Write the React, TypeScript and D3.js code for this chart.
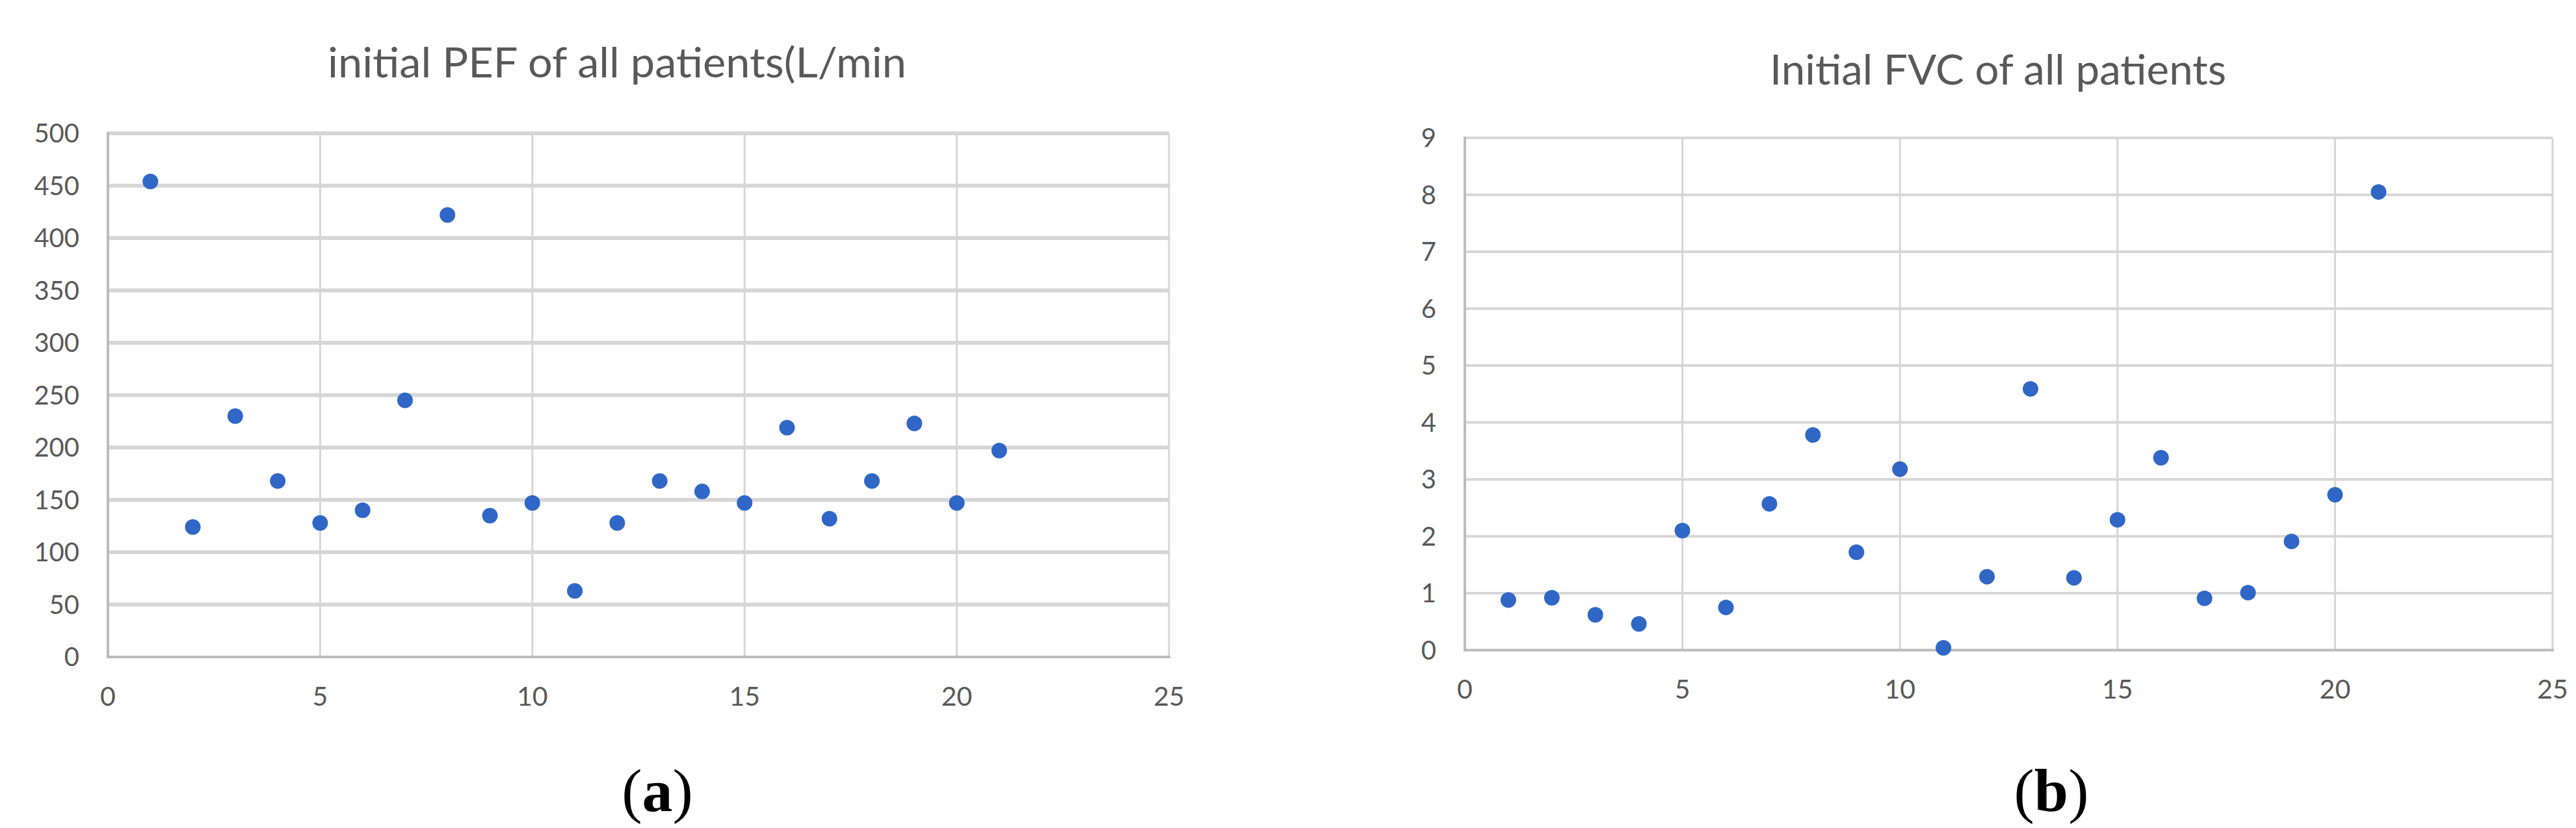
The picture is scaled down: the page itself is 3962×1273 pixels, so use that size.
import React from "react";
import * as d3 from "d3";

const patients = [1, 2, 3, 4, 5, 6, 7, 8, 9, 10, 11, 12, 13, 14, 15, 16, 17, 18, 19, 20, 21];
const pefValues = [454, 124, 230, 168, 128, 140, 245, 422, 135, 147, 63, 128, 168, 158, 147, 219, 132, 168, 223, 147, 197];
const fvcValues = [0.88, 0.92, 0.62, 0.46, 2.1, 0.75, 2.57, 3.78, 1.72, 3.18, 0.04, 1.29, 4.59, 1.27, 2.29, 3.38, 0.91, 1.01, 1.91, 2.73, 8.05];
const xTicks = [0, 5, 10, 15, 20, 25];
const pefTicks = [0, 50, 100, 150, 200, 250, 300, 350, 400, 450, 500];
const fvcTicks = [0, 1, 2, 3, 4, 5, 6, 7, 8, 9];
const pefTitle = "initial PEF of all patients(L/min";
const fvcTitle = "Initial FVC of all patients";

const W = 3962;
const H = 1273;
const GRID = "#d6d6d6";
const AXIS = "#bcbcbc";
const TEXT = "#595959";
const DOT = "#3067c6";
const FONT = "Lato, 'Open Sans', sans-serif";

type PanelProps = {
  left: number;
  right: number;
  top: number;
  bottom: number;
  yMax: number;
  yTicks: number[];
  values: number[];
  title: string;
  titleX: number;
  titleY: number;
  titleLen: number;
  xLabelY: number;
  hGridW: number;
  letter: string;
  letterX: number;
};

function Panel(p: PanelProps) {
  const x = d3.scaleLinear().domain([0, 25]).range([p.left, p.right]);
  const y = d3.scaleLinear().domain([0, p.yMax]).range([p.bottom, p.top]);
  return (
    <g>
      {p.yTicks.filter((t) => t !== 0).map((t) => (
        <line key={"h" + t} x1={p.left} x2={p.right} y1={y(t)} y2={y(t)} stroke={GRID} strokeWidth={p.hGridW} />
      ))}
      {xTicks.filter((t) => t !== 0).map((t) => (
        <line key={"v" + t} x1={x(t)} x2={x(t)} y1={p.top} y2={p.bottom} stroke={GRID} strokeWidth={3} />
      ))}
      <line x1={p.left} x2={p.left} y1={p.top - 2} y2={p.bottom + 2} stroke={AXIS} strokeWidth={4} />
      <line x1={p.left - 2} x2={p.right + 2} y1={p.bottom} y2={p.bottom} stroke={AXIS} strokeWidth={4} />
      {p.yTicks.map((t) => (
        <text key={"yl" + t} x={p.left - 44} y={y(t)} dy="0.36em" textAnchor="end" fontSize={40} fill={TEXT} fontFamily={FONT}>
          {t}
        </text>
      ))}
      {xTicks.map((t) => (
        <text key={"xl" + t} x={x(t)} y={p.xLabelY} textAnchor="middle" fontSize={41} fill={TEXT} fontFamily={FONT}>
          {t}
        </text>
      ))}
      {patients.map((pt, i) => (
        <circle key={"c" + pt} cx={x(pt)} cy={y(p.values[i])} r={12} fill={DOT} />
      ))}
      <text x={p.titleX} y={p.titleY} textAnchor="middle" fontSize={63} fill={TEXT} fontFamily={FONT}
        textLength={p.titleLen} lengthAdjust="spacingAndGlyphs">
        {p.title}
      </text>
      <text x={p.letterX} y={1247} textAnchor="middle" fontSize={94} fill="#000" fontFamily="'Liberation Serif', 'Times New Roman', serif">
        (<tspan fontWeight="bold">{p.letter}</tspan>)
      </text>
    </g>
  );
}

export default function App() {
  return (
    <svg width={W} height={H} viewBox={`0 0 ${W} ${H}`} style={{ position: "absolute", left: 0, top: 0, background: "#fff" }}>
      <rect x={0} y={0} width={W} height={H} fill="#fff" />
      <Panel left={166} right={1798} top={205} bottom={1010} yMax={500} yTicks={pefTicks} values={pefValues}
        title={pefTitle} titleX={949} titleY={119} titleLen={890} xLabelY={1085} hGridW={6} letter="a" letterX={1011} />
      <Panel left={2253} right={3926} top={212} bottom={999.5} yMax={9} yTicks={fvcTicks} values={fvcValues}
        title={fvcTitle} titleX={3073} titleY={130} titleLen={702} xLabelY={1074} hGridW={4} letter="b" letterX={3155} />
    </svg>
  );
}
